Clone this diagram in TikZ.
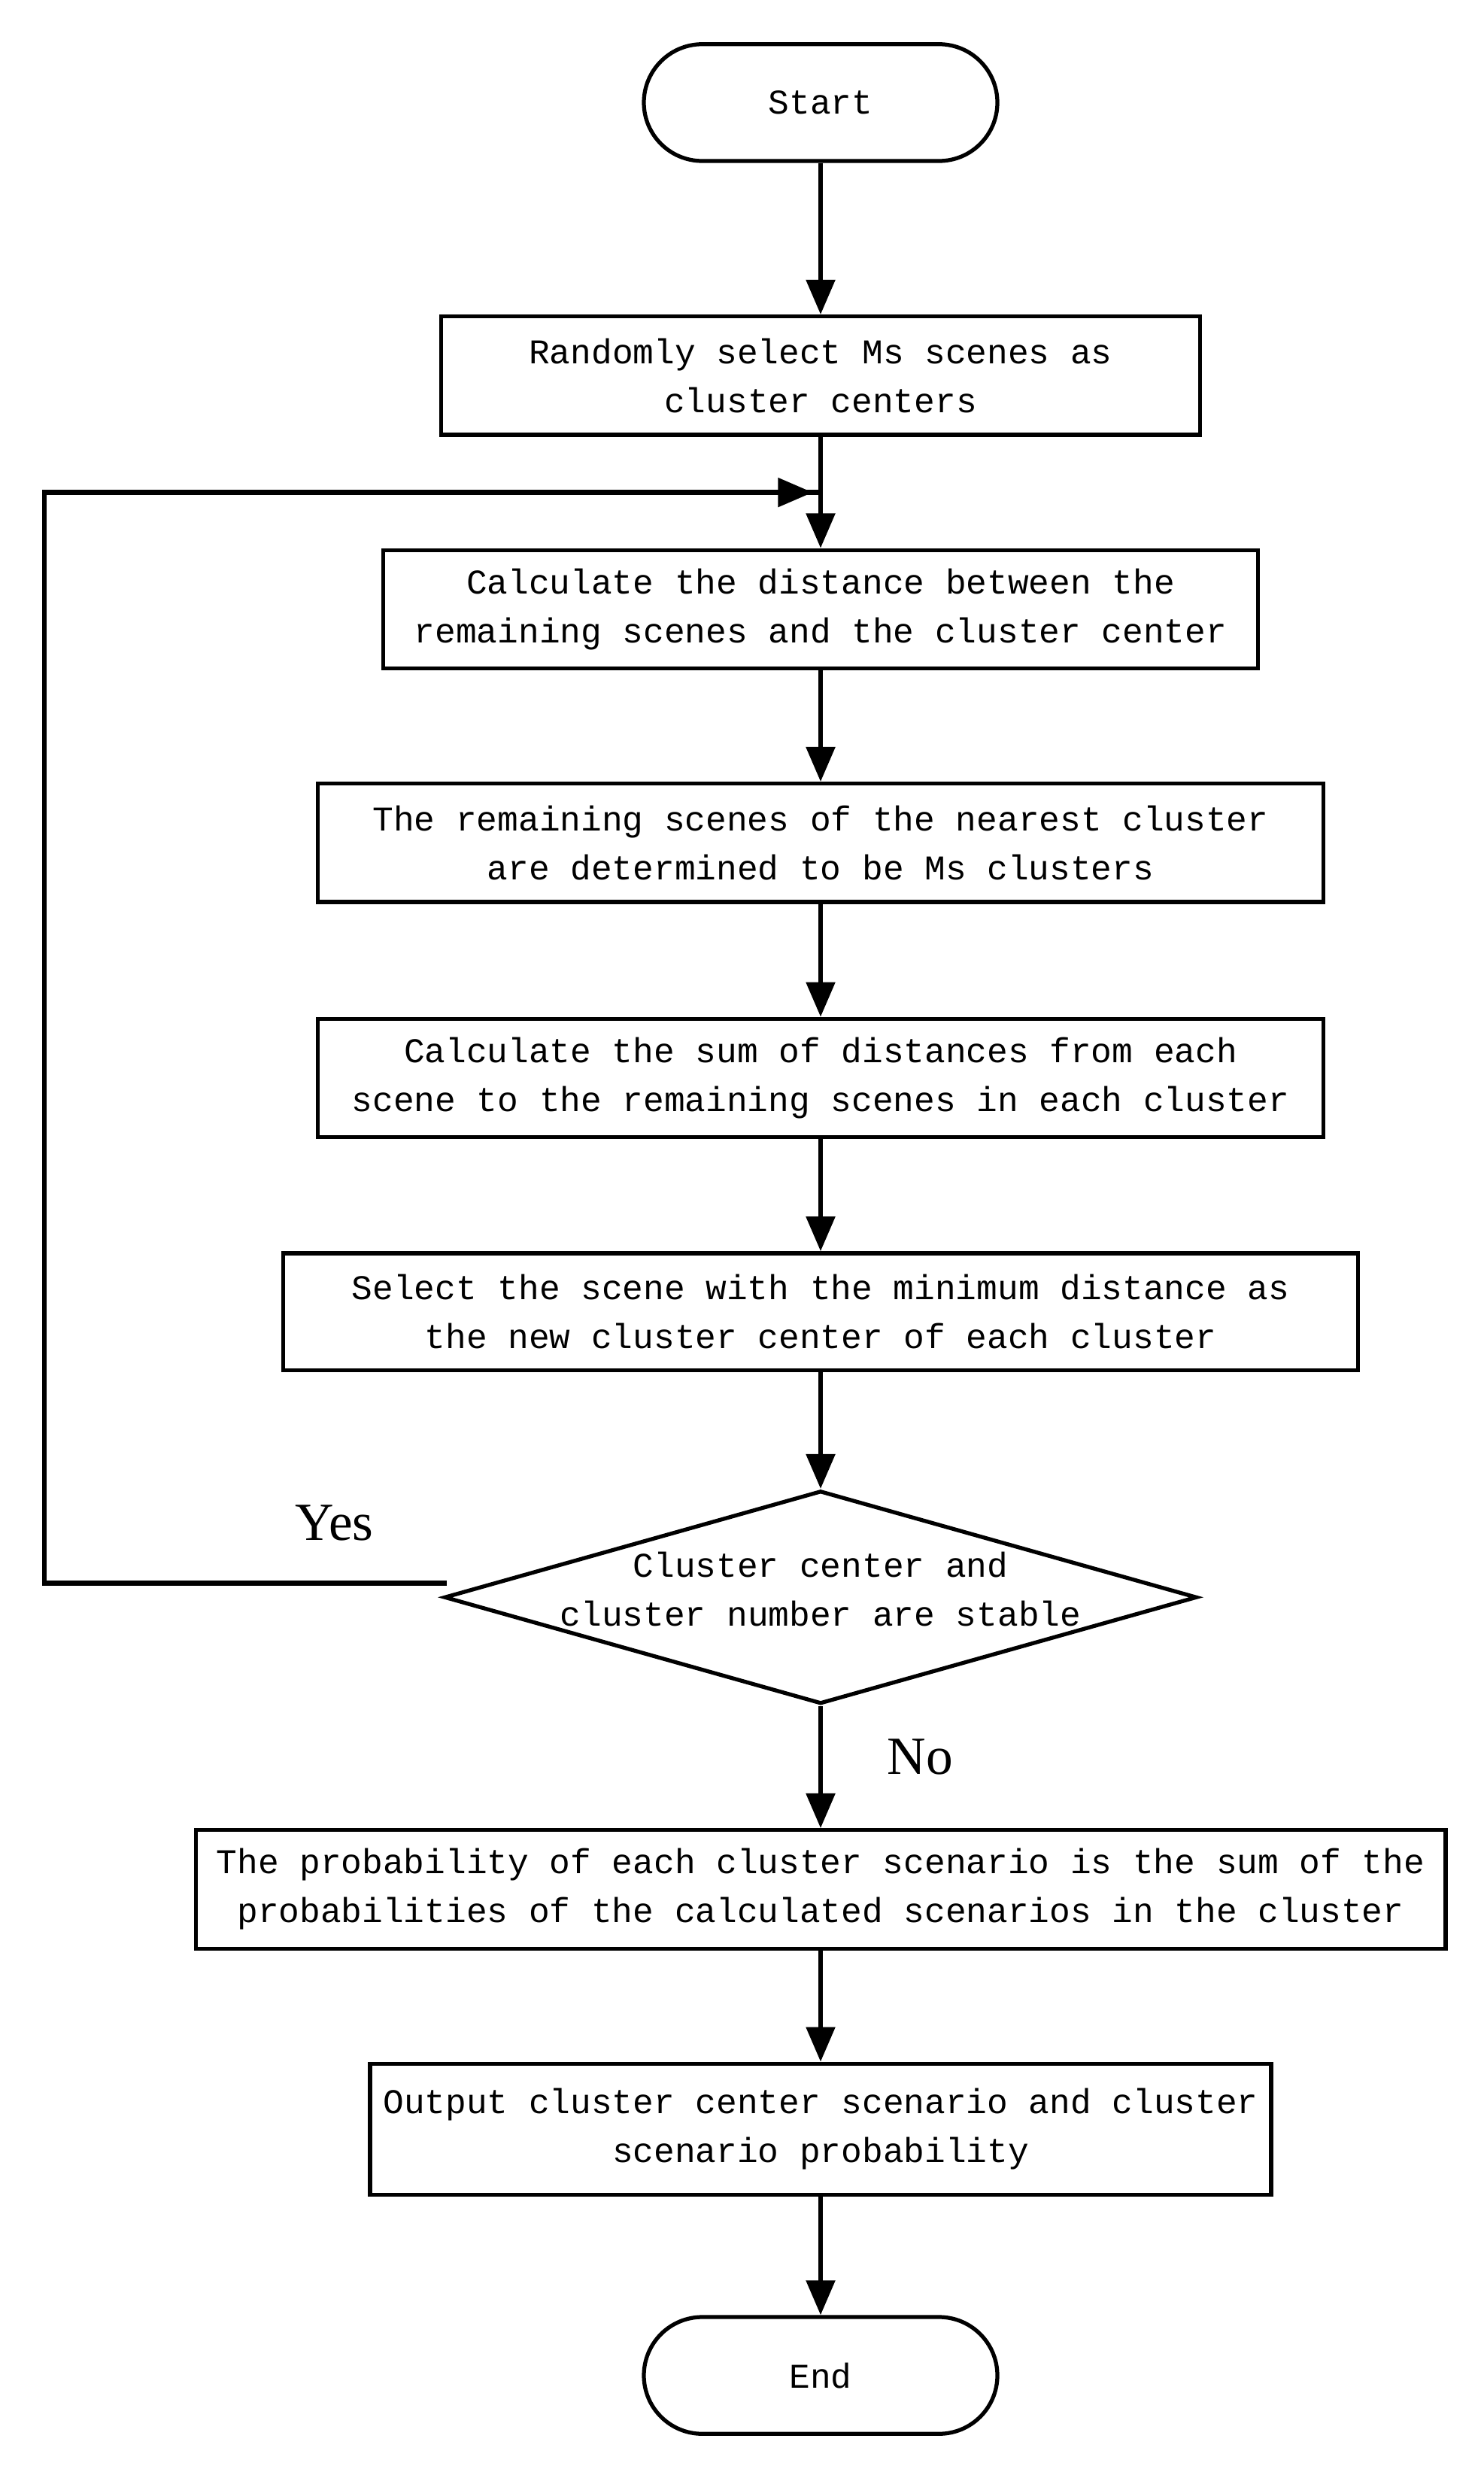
\documentclass[tikz,border=0pt]{standalone}
\usepackage{fontspec}
\setmainfont{Liberation Serif}
\newfontfamily\monof{Liberation Mono}
\usetikzlibrary{shapes.geometric,arrows.meta}
\begin{document}
\begin{tikzpicture}[x=1pt,y=-1pt,
  box/.style={draw,line width=2.5pt,align=center,font=\monof\fontsize{22}{31}\selectfont,inner sep=0pt},
  term/.style={draw,line width=2.5pt,rounded corners=37pt,minimum width=224pt,minimum height=74pt,font=\monof\fontsize{22}{31}\selectfont},
  arr/.style={line width=3pt,-{Triangle[length=22pt,width=18pt]}}]
\useasboundingbox (0,0) rectangle (940,1570);
\node[term] (start) at (520,65) {Start};
\node[box,minimum width=481pt,minimum height=75pt] (b1) at (520,238) {Randomly select Ms scenes as\\cluster centers};
\node[box,minimum width=554pt,minimum height=75pt] (b2) at (520,386) {Calculate the distance between the\\remaining scenes and the cluster center};
\node[box,minimum width=637pt,minimum height=75pt] (b3) at (520,534) {The remaining scenes of the nearest cluster\\are determined to be Ms clusters};
\node[box,minimum width=637pt,minimum height=75pt] (b4) at (520,683) {Calculate the sum of distances from each\\scene to the remaining scenes in each cluster};
\node[box,minimum width=681pt,minimum height=74pt] (b5) at (520,831) {Select the scene with the minimum distance as\\the new cluster center of each cluster};
\node[diamond,draw,line width=2.5pt,minimum width=477pt,minimum height=135pt,aspect=3.5,inner sep=0pt] (d) at (520,1012) {};
\node[align=center,font=\monof\fontsize{22}{31}\selectfont] at (520,1007) {Cluster center and\\cluster number are stable};
\node[box,minimum width=792pt,minimum height=75pt] (b6) at (520,1197) {The probability of each cluster scenario is the sum of the\\probabilities of the calculated scenarios in the cluster};
\node[box,minimum width=571pt,minimum height=83pt] (b7) at (520,1349) {Output cluster center scenario and cluster\\scenario probability};
\node[term] (end) at (520,1505) {End};
\coordinate (m) at (520,312);
\coordinate (l1) at (28,1003);
\coordinate (l2) at (28,312);
\draw[arr] (start) -- (b1);
\draw[line width=3pt] (b1) -- (m);
\draw[arr] (m) -- (b2);
\draw[arr] (b2) -- (b3);
\draw[arr] (b3) -- (b4);
\draw[arr] (b4) -- (b5);
\draw[arr] (b5) -- (d);
\draw[arr] (d) -- (b6);
\draw[arr] (b6) -- (b7);
\draw[arr] (b7) -- (end);
\draw[line width=3pt] (283,1003) -- (l1) -- (l2) -- (m);
\draw[arr] (l2) -- (515,312);
\node[font=\fontsize{34}{40}\selectfont] (yes) at (212,965) {Yes};
\node[font=\fontsize{34}{40}\selectfont] (no) at (583,1113) {No};
\end{tikzpicture}
\end{document}
